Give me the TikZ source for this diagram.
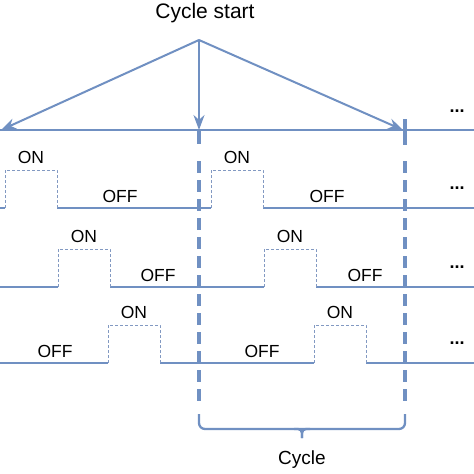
\documentclass[tikz,border=0pt]{standalone}
\usepackage{fontspec}
\setmainfont{Liberation Sans}
\usetikzlibrary{arrows.meta}
\definecolor{Wave}{HTML}{7090C2}
\definecolor{Pulse}{HTML}{8299C2}

\begin{document}
\begin{tikzpicture}[x=1pt,y=-1pt,
  axis/.style={Wave,line width=2.8pt},
  cast/.style={Wave,line width=2pt,-{Stealth[length=15pt,width=11pt]}},
  bound/.style={Wave,line width=3.2pt,dash pattern=on 12pt off 7pt},
  wave/.style={Wave,line width=2.3pt},
  pulse/.style={Pulse,line width=.9pt,dash pattern=on 3pt off 2pt},
  lbl/.style={font=\fontsize{17.5}{20}\selectfont,inner sep=0pt,anchor=base}]
\useasboundingbox (0,0) rectangle (474,474);
% cycle start and its arrows
\node[lbl,font=\fontsize{21}{24}\selectfont] (start) at (205,18) {Cycle start};
\coordinate (apex) at (199,40);
\coordinate (axisL) at (0,130);
\coordinate (axisR) at (474,130);
\coordinate (hit0) at (1,130);
\coordinate (hit1) at (199,130);
\coordinate (hit2) at (403,130);
\draw[axis] (axisL) -- (axisR);
\draw[cast] (apex) -- (hit0);
\draw[cast] (apex) -- (hit1);
\draw[cast] (apex) -- (hit2);
\node[lbl,font=\fontsize{18}{20}\selectfont\bfseries] (dots0) at (457,112) {...};
% cycle bounds
\draw[Wave,line width=3.2pt] (199,130) -- (199,144);
\draw[Wave,line width=3.4pt] (405,119) -- (405,145);
\draw[bound] (199,161) -- (199,403);
\draw[bound] (405,161) -- (405,403);
% the channels
\foreach \y/\a/\offa/\offb [count=\i] in {208/5/120/327,287/58/158/365,363/108/55/262}{
  \draw[wave] (0,\y) -- (\a,\y) (\a+52,\y) -- (\a+206,\y) (\a+258,\y) -- (474,\y);
  \draw[pulse] (\a,\y) -- (\a,\y-38) -- (\a+52,\y-38) -- (\a+52,\y);
  \draw[pulse] (\a+206,\y) -- (\a+206,\y-38) -- (\a+258,\y-38) -- (\a+258,\y);
  \node[lbl] (onA\i) at (\a+26,\y-45) {ON};
  \node[lbl] (onB\i) at (\a+232,\y-45) {ON};
  \node[lbl] (offA\i) at (\offa,\y-6) {OFF};
  \node[lbl] (offB\i) at (\offb,\y-6) {OFF};
  \node[lbl,font=\fontsize{18}{20}\selectfont\bfseries] (dots\i) at (457,\y-19) {...};
}
% brace
\draw[wave,rounded corners=6pt] (199,414) -- (199,429) -- (405,429) -- (405,414);
\draw[wave,rounded corners=4pt] (294,429) -- (302,429) -- (302,438);
\draw[wave,rounded corners=4pt] (310,429) -- (302,429) -- (302,438);
\node[lbl,font=\fontsize{19}{22}\selectfont] (cycle) at (302,464) {Cycle};
\end{tikzpicture}
\end{document}
